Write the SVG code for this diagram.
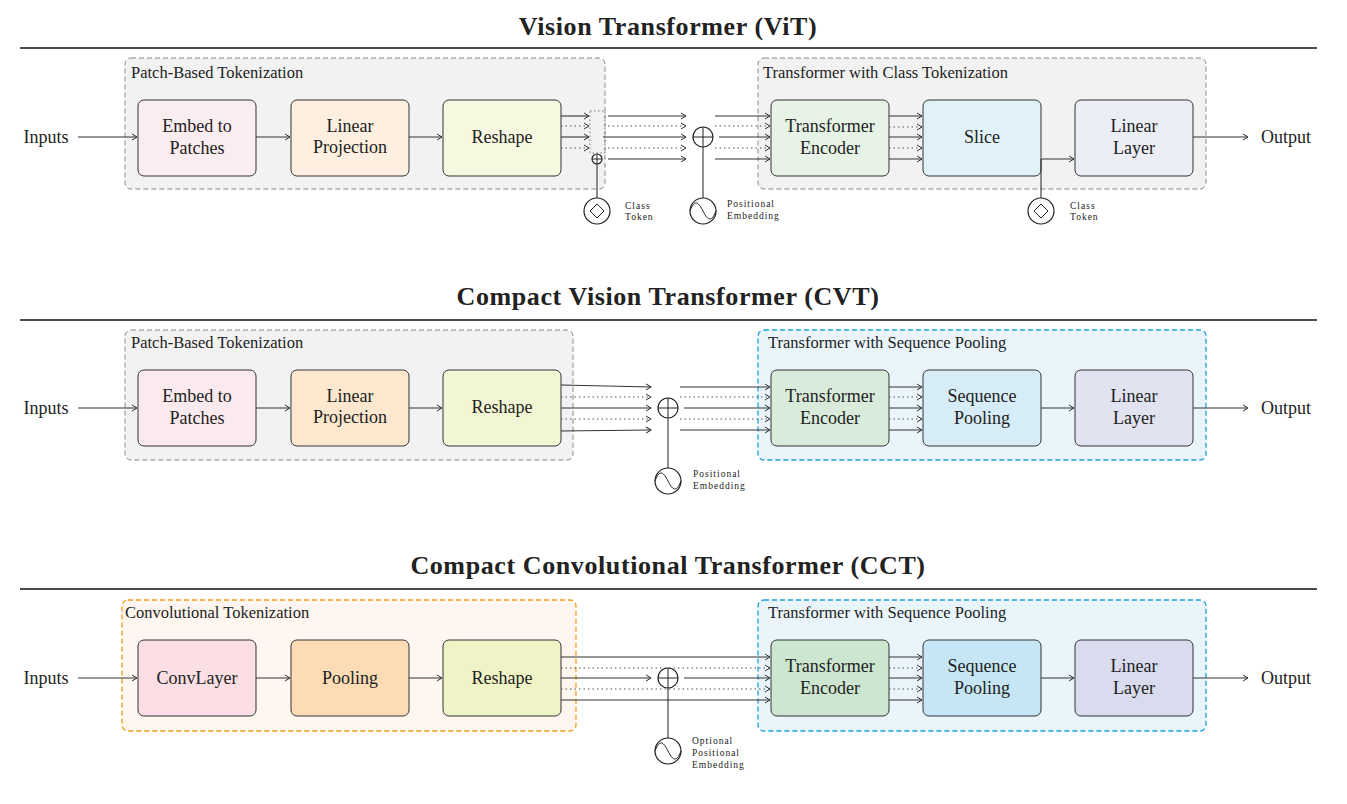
<svg xmlns="http://www.w3.org/2000/svg" width="1347" height="804" viewBox="0 0 1347 804">
<style>
text{font-family:"Liberation Serif","DejaVu Serif",serif;fill:#222}
.t{font-size:26px;font-weight:bold;text-anchor:middle;letter-spacing:0.6px}
.n{font-size:18px;text-anchor:middle}
.g{font-size:16.5px}
.s{font-size:9.5px;letter-spacing:1px}
.node{stroke:#333;stroke-width:1}
.ln{stroke:#333;stroke-width:1.1;fill:none;marker-end:url(#a)}
.dt{stroke:#555;stroke-width:1.1;fill:none;stroke-dasharray:1.5 3;marker-end:url(#a)}
.pl{stroke:#333;stroke-width:1.1;fill:none}
.circ{fill:#fff;stroke:#222;stroke-width:1.2}
</style>
<defs>
<marker id="a" markerWidth="8" markerHeight="8" refX="6" refY="4" orient="auto" markerUnits="userSpaceOnUse"><path d="M1,1 L6,4 L1,7" fill="none" stroke="#333" stroke-width="1"/></marker>
</defs>
<rect width="1347" height="804" fill="#fff"/>
<g id="titles">
<text class="t" x="668" y="35">Vision Transformer (ViT)</text>
<line x1="20" y1="48" x2="1317" y2="48" stroke="#111" stroke-width="1.5"/>
<text class="t" x="668" y="305">Compact Vision Transformer (CVT)</text>
<line x1="20" y1="320" x2="1317" y2="320" stroke="#111" stroke-width="1.5"/>
<text class="t" x="668" y="574">Compact Convolutional Transformer (CCT)</text>
<line x1="20" y1="589" x2="1317" y2="589" stroke="#111" stroke-width="1.5"/>
</g>
<g id="groups">
<rect x="125" y="58" width="480" height="131" rx="6" fill="#f2f2f2" stroke="#888" stroke-dasharray="5 3"/>
<text class="g" x="131" y="78">Patch-Based Tokenization</text>
<rect x="758" y="58" width="448" height="131" rx="6" fill="#f2f2f2" stroke="#888" stroke-dasharray="5 3"/>
<text class="g" x="763" y="78">Transformer with Class Tokenization</text>
<rect x="125" y="330" width="448" height="130" rx="6" fill="#f2f2f2" stroke="#888" stroke-dasharray="5 3"/>
<text class="g" x="131" y="348">Patch-Based Tokenization</text>
<rect x="758" y="330" width="448" height="130" rx="6" fill="#eaf5fb" stroke="#1ba1dc" stroke-width="1.3" stroke-dasharray="5 3"/>
<text class="g" x="768" y="348">Transformer with Sequence Pooling</text>
<rect x="122" y="600" width="454" height="131" rx="6" fill="#fff6ef" stroke="#f39c1e" stroke-width="1.3" stroke-dasharray="5 3"/>
<text class="g" x="125" y="618">Convolutional Tokenization</text>
<rect x="758" y="600" width="448" height="131" rx="6" fill="#eaf5fb" stroke="#1ba1dc" stroke-width="1.3" stroke-dasharray="5 3"/>
<text class="g" x="768" y="618">Transformer with Sequence Pooling</text>
</g>
<g id="labels">
<text class="n" x="46" y="143">Inputs</text><text class="n" x="1286" y="143">Output</text>
<text class="n" x="46" y="414">Inputs</text><text class="n" x="1286" y="414">Output</text>
<text class="n" x="46" y="684">Inputs</text><text class="n" x="1286" y="684">Output</text>
</g>
<g id="vit-embed"><rect class="node" x="138" y="100" width="118" height="76" rx="6" fill="#fbecef"/><text class="n" x="197" y="132">Embed to</text><text class="n" x="197" y="154">Patches</text></g>
<g id="vit-linear"><rect class="node" x="291" y="100" width="118" height="76" rx="6" fill="#fdf0e0"/><text class="n" x="350" y="132">Linear</text><text class="n" x="350" y="153">Projection</text></g>
<g id="vit-reshape"><rect class="node" x="443" y="100" width="118" height="76" rx="6" fill="#f6f8e0"/><text class="n" x="502" y="143">Reshape</text></g>
<g id="vit-encoder"><rect class="node" x="771" y="100" width="118" height="76" rx="6" fill="#e6f3e6"/><text class="n" x="830" y="132">Transformer</text><text class="n" x="830" y="154">Encoder</text></g>
<g id="vit-slice"><rect class="node" x="923" y="100" width="118" height="76" rx="6" fill="#e0f2f8"/><text class="n" x="982" y="143">Slice</text></g>
<g id="vit-lin"><rect class="node" x="1075" y="100" width="118" height="76" rx="6" fill="#eceef6"/><text class="n" x="1134" y="132">Linear</text><text class="n" x="1134" y="154">Layer</text></g>
<g id="cvt-embed"><rect class="node" x="138" y="370" width="118" height="76" rx="6" fill="#fbeaed"/><text class="n" x="197" y="402">Embed to</text><text class="n" x="197" y="424">Patches</text></g>
<g id="cvt-linear"><rect class="node" x="291" y="370" width="118" height="76" rx="6" fill="#fde8cf"/><text class="n" x="350" y="402">Linear</text><text class="n" x="350" y="423">Projection</text></g>
<g id="cvt-reshape"><rect class="node" x="443" y="370" width="118" height="76" rx="6" fill="#f2f6d4"/><text class="n" x="502" y="413">Reshape</text></g>
<g id="cvt-encoder"><rect class="node" x="771" y="370" width="118" height="76" rx="6" fill="#d9ecdb"/><text class="n" x="830" y="402">Transformer</text><text class="n" x="830" y="424">Encoder</text></g>
<g id="cvt-pool"><rect class="node" x="923" y="370" width="118" height="76" rx="6" fill="#d6ecf7"/><text class="n" x="982" y="402">Sequence</text><text class="n" x="982" y="424">Pooling</text></g>
<g id="cvt-lin"><rect class="node" x="1075" y="370" width="118" height="76" rx="6" fill="#e1e3f0"/><text class="n" x="1134" y="402">Linear</text><text class="n" x="1134" y="424">Layer</text></g>
<g id="cct-conv"><rect class="node" x="138" y="640" width="118" height="76" rx="6" fill="#fbdfe4"/><text class="n" x="197" y="684">ConvLayer</text></g>
<g id="cct-pool1"><rect class="node" x="291" y="640" width="118" height="76" rx="6" fill="#fddcb5"/><text class="n" x="350" y="684">Pooling</text></g>
<g id="cct-reshape"><rect class="node" x="443" y="640" width="118" height="76" rx="6" fill="#eff3c5"/><text class="n" x="502" y="684">Reshape</text></g>
<g id="cct-encoder"><rect class="node" x="771" y="640" width="118" height="76" rx="6" fill="#cde6cf"/><text class="n" x="830" y="672">Transformer</text><text class="n" x="830" y="694">Encoder</text></g>
<g id="cct-pool"><rect class="node" x="923" y="640" width="118" height="76" rx="6" fill="#c6e6f5"/><text class="n" x="982" y="672">Sequence</text><text class="n" x="982" y="694">Pooling</text></g>
<g id="cct-lin"><rect class="node" x="1075" y="640" width="118" height="76" rx="6" fill="#d9dcee"/><text class="n" x="1134" y="672">Linear</text><text class="n" x="1134" y="694">Layer</text></g>
<g id="ops">
<rect x="590" y="111" width="15" height="42" fill="none" stroke="#777" stroke-dasharray="1.5 2.5"/>
<circle class="circ" cx="597" cy="159" r="5"/><path d="M592,159h10M597,154v10" stroke="#222"/>
<line class="pl" x1="597" y1="164" x2="597" y2="198"/>
<circle class="circ" cx="597" cy="211" r="13"/><path d="M597,204 L604,211 L597,218 L590,211Z" fill="none" stroke="#222"/>
<text class="s" x="625" y="209">Class</text><text class="s" x="625" y="220">Token</text>
<circle class="circ" cx="703" cy="137" r="10"/><path d="M693,137h20M703,127v20" stroke="#222"/>
<line class="pl" x1="703" y1="147" x2="703" y2="198"/>
<circle class="circ" cx="703" cy="211" r="13"/><path d="M690,211 C695,198 699,203 703,211 C707,219 711,224 716,211" fill="none" stroke="#222"/>
<text class="s" x="727" y="207">Positional</text><text class="s" x="727" y="219">Embedding</text>
<line class="pl" x1="1041" y1="159" x2="1041" y2="198"/>
<circle class="circ" cx="1041" cy="211" r="13"/><path d="M1041,204 L1048,211 L1041,218 L1034,211Z" fill="none" stroke="#222"/>
<text class="s" x="1070" y="209">Class</text><text class="s" x="1070" y="220">Token</text>
<circle class="circ" cx="668" cy="408" r="10"/><path d="M658,408h20M668,398v20" stroke="#222"/>
<line class="pl" x1="668" y1="418" x2="668" y2="468"/>
<circle class="circ" cx="668" cy="481" r="13"/><path d="M655,481 C660,468 664,473 668,481 C672,489 676,494 681,481" fill="none" stroke="#222"/>
<text class="s" x="693" y="477">Positional</text><text class="s" x="693" y="489">Embedding</text>
<circle class="circ" cx="668" cy="678" r="10"/><path d="M658,678h20M668,668v20" stroke="#222"/>
<line class="pl" x1="668" y1="688" x2="668" y2="738"/>
<circle class="circ" cx="668" cy="751" r="13"/><path d="M655,751 C660,738 664,743 668,751 C672,759 676,764 681,751" fill="none" stroke="#222"/>
<text class="s" x="692" y="744">Optional</text><text class="s" x="692" y="756">Positional</text><text class="s" x="692" y="768">Embedding</text>
</g>
<g id="connectors">
<line class="ln" x1="78" y1="137" x2="137" y2="137"/><line class="ln" x1="256" y1="137" x2="290" y2="137"/><line class="ln" x1="409" y1="137" x2="442" y2="137"/>
<line class="ln" x1="561" y1="116" x2="589" y2="116"/><line class="dt" x1="561" y1="126" x2="589" y2="126"/><line class="ln" x1="561" y1="137" x2="589" y2="137"/><line class="dt" x1="561" y1="148" x2="589" y2="148"/>
<line class="ln" x1="608" y1="116" x2="686" y2="116"/><line class="dt" x1="608" y1="126" x2="686" y2="126"/><line class="ln" x1="603" y1="137" x2="686" y2="137"/><line class="dt" x1="608" y1="148" x2="686" y2="148"/><line class="ln" x1="608" y1="159" x2="686" y2="159"/>
<line class="ln" x1="715" y1="116" x2="770" y2="116"/><line class="dt" x1="715" y1="126" x2="770" y2="126"/><line class="ln" x1="719" y1="137" x2="770" y2="137"/><line class="dt" x1="715" y1="148" x2="770" y2="148"/><line class="ln" x1="715" y1="159" x2="770" y2="159"/>
<line class="ln" x1="889" y1="116" x2="922" y2="116"/><line class="dt" x1="889" y1="127" x2="922" y2="127"/><line class="ln" x1="889" y1="137" x2="922" y2="137"/><line class="dt" x1="889" y1="148" x2="922" y2="148"/><line class="ln" x1="889" y1="159" x2="922" y2="159"/>
<line class="ln" x1="1041" y1="159" x2="1074" y2="159"/><line class="ln" x1="1193" y1="137" x2="1248" y2="137"/>
<line class="ln" x1="78" y1="408" x2="137" y2="408"/><line class="ln" x1="256" y1="408" x2="290" y2="408"/><line class="ln" x1="409" y1="408" x2="442" y2="408"/>
<line class="ln" x1="561" y1="385" x2="651" y2="387"/><line class="dt" x1="561" y1="397" x2="651" y2="397"/><line class="ln" x1="561" y1="408" x2="651" y2="408"/><line class="dt" x1="561" y1="419" x2="651" y2="419"/><line class="ln" x1="561" y1="431" x2="651" y2="430"/>
<line class="ln" x1="680" y1="387" x2="770" y2="387"/><line class="dt" x1="680" y1="397" x2="770" y2="397"/><line class="ln" x1="684" y1="408" x2="770" y2="408"/><line class="dt" x1="680" y1="419" x2="770" y2="419"/><line class="ln" x1="680" y1="430" x2="770" y2="430"/>
<line class="ln" x1="889" y1="387" x2="922" y2="387"/><line class="dt" x1="889" y1="397" x2="922" y2="397"/><line class="ln" x1="889" y1="408" x2="922" y2="408"/><line class="dt" x1="889" y1="419" x2="922" y2="419"/><line class="ln" x1="889" y1="430" x2="922" y2="430"/>
<line class="ln" x1="1041" y1="408" x2="1074" y2="408"/><line class="ln" x1="1193" y1="408" x2="1248" y2="408"/>
<line class="ln" x1="78" y1="678" x2="137" y2="678"/><line class="ln" x1="256" y1="678" x2="290" y2="678"/><line class="ln" x1="409" y1="678" x2="442" y2="678"/>
<line class="ln" x1="561" y1="657" x2="770" y2="657"/><line class="dt" x1="561" y1="668" x2="770" y2="668"/><line class="ln" x1="561" y1="678" x2="651" y2="678"/><line class="ln" x1="684" y1="678" x2="770" y2="678"/><line class="dt" x1="561" y1="689" x2="770" y2="689"/><line class="ln" x1="561" y1="700" x2="770" y2="700"/>
<line class="ln" x1="889" y1="657" x2="922" y2="657"/><line class="dt" x1="889" y1="668" x2="922" y2="668"/><line class="ln" x1="889" y1="678" x2="922" y2="678"/><line class="dt" x1="889" y1="689" x2="922" y2="689"/><line class="ln" x1="889" y1="700" x2="922" y2="700"/>
<line class="ln" x1="1041" y1="678" x2="1074" y2="678"/><line class="ln" x1="1193" y1="678" x2="1248" y2="678"/>
</g>
</svg>
